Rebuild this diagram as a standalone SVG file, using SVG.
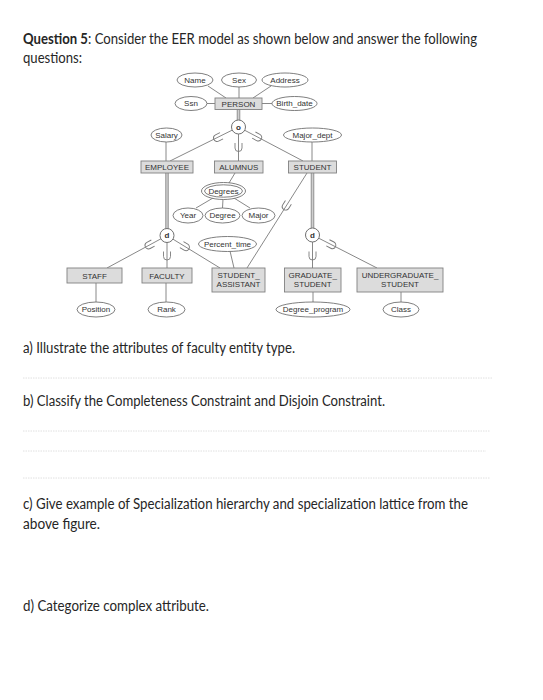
<svg xmlns="http://www.w3.org/2000/svg" width="543" height="700" viewBox="0 0 543 700">
<defs>
<style>
.q{font-family:Lato,"Open Sans","Liberation Sans",sans-serif;font-size:14.5px;fill:#262626}
.b{font-weight:bold}
.t{font-family:"Liberation Sans",Arial,sans-serif;font-size:8px;fill:#333;text-anchor:middle}
.ent rect{fill:#dcdcdc;stroke:#808080;stroke-width:0.9}
.att ellipse{fill:#fff;stroke:#707070;stroke-width:0.9}
.ln{stroke:#7a7a7a;stroke-width:0.9;fill:none}
.dbl{stroke:#999;stroke-width:3.6;fill:none}
.dbli{stroke:#cfcfcf;stroke-width:1.4;fill:none}
.cup{stroke:#7a7a7a;stroke-width:0.9;fill:none}
.circ circle{fill:#fff;stroke:#707070;stroke-width:1}
.rule{stroke:#d8d8d8;stroke-width:0.8;stroke-dasharray:1.5 1}
</style>
<path id="cup" d="M -3.5 -4.5 V 0.5 A 3.5 3.5 0 0 0 3.5 0.5 V -4.5"/>
</defs>
<rect width="543" height="700" fill="#fff"/>

<g id="text">
<text class="q" x="23" y="44" textLength="454" lengthAdjust="spacingAndGlyphs"><tspan class="b">Question 5</tspan>: Consider the EER model as shown below and answer the following</text>
<text class="q" x="23" y="63" textLength="59" lengthAdjust="spacingAndGlyphs">questions:</text>
<text class="q" x="23" y="353" textLength="272" lengthAdjust="spacingAndGlyphs">a) Illustrate the attributes of faculty entity type.</text>
<text class="q" x="23" y="406" textLength="362" lengthAdjust="spacingAndGlyphs">b) Classify the Completeness Constraint and Disjoin Constraint.</text>
<text class="q" x="23" y="509" textLength="445" lengthAdjust="spacingAndGlyphs">c) Give example of Specialization hierarchy and specialization lattice from the</text>
<text class="q" x="23" y="529" textLength="77" lengthAdjust="spacingAndGlyphs">above figure.</text>
<text class="q" x="23" y="611" textLength="186" lengthAdjust="spacingAndGlyphs">d) Categorize complex attribute.</text>
</g>
<g id="rules">
<line class="rule" x1="23" y1="378" x2="492" y2="378"/>
<line class="rule" x1="23" y1="431" x2="490" y2="431"/>
<line class="rule" x1="23" y1="451" x2="486" y2="451"/>
<line class="rule" x1="23" y1="478" x2="490" y2="478"/>
</g>

<g id="connectors">
<line class="dbl" x1="238.5" y1="109" x2="238.5" y2="121"/>
<line class="dbli" x1="238.5" y1="109" x2="238.5" y2="121"/>
<line class="dbl" x1="167" y1="173" x2="167" y2="229"/>
<line class="dbli" x1="167" y1="173" x2="167" y2="229"/>
<line class="dbl" x1="312.5" y1="173" x2="312.5" y2="228"/>
<line class="dbli" x1="312.5" y1="173" x2="312.5" y2="228"/>
<line class="ln" x1="208" y1="86" x2="226" y2="98"/>
<line class="ln" x1="239" y1="87" x2="239" y2="98"/>
<line class="ln" x1="271" y1="86" x2="253" y2="98"/>
<line class="ln" x1="207" y1="103.5" x2="215" y2="103.5"/>
<line class="ln" x1="262" y1="103.5" x2="272" y2="103.5"/>
<line class="ln" x1="166" y1="142" x2="166" y2="161"/>
<line class="ln" x1="312" y1="142" x2="312" y2="161"/>
<line class="ln" x1="235" y1="173" x2="229" y2="183"/>
<line class="ln" x1="213" y1="198" x2="196" y2="208"/>
<line class="ln" x1="223" y1="199" x2="222.5" y2="208"/>
<line class="ln" x1="234" y1="198" x2="250" y2="208"/>
<line class="ln" x1="230" y1="251" x2="234" y2="268"/>
<line class="ln" x1="96" y1="283" x2="96" y2="302"/>
<line class="ln" x1="166" y1="283" x2="166" y2="302"/>
<line class="ln" x1="313" y1="292" x2="313" y2="302"/>
<line class="ln" x1="401" y1="292" x2="401" y2="302"/>
<line class="ln" x1="238.5" y1="127" x2="170" y2="161"/>
<line class="ln" x1="238.5" y1="127" x2="238.5" y2="161"/>
<line class="ln" x1="238.5" y1="127" x2="303" y2="161"/>
<line class="ln" x1="307" y1="173" x2="247" y2="268"/>
<line class="ln" x1="167" y1="235.5" x2="107" y2="268"/>
<line class="ln" x1="167" y1="235.5" x2="167" y2="268"/>
<line class="ln" x1="167" y1="235.5" x2="220" y2="268"/>
<line class="ln" x1="312.5" y1="235" x2="312.5" y2="268"/>
<line class="ln" x1="312.5" y1="235" x2="377" y2="268"/>
<use href="#cup" class="cup" transform="translate(217.5,137.7) rotate(63.6)"/>
<use href="#cup" class="cup" transform="translate(238.5,147.5)"/>
<use href="#cup" class="cup" transform="translate(257.8,137.2) rotate(-62.2)"/>
<use href="#cup" class="cup" transform="translate(286,206.2) rotate(32.3)"/>
<use href="#cup" class="cup" transform="translate(149,245.2) rotate(61.6)"/>
<use href="#cup" class="cup" transform="translate(167,256)"/>
<use href="#cup" class="cup" transform="translate(185.5,246.9) rotate(-58.5)"/>
<use href="#cup" class="cup" transform="translate(312.5,256)"/>
<use href="#cup" class="cup" transform="translate(331.9,244.9) rotate(-62.9)"/>
</g>

<g id="circles" class="circ">
<g id="c-o"><circle cx="238.5" cy="127" r="7"/><text class="t" x="238.5" y="129.8" style="font-weight:bold">o</text></g>
<g id="c-d1"><circle cx="167" cy="235.5" r="7"/><text class="t" x="167" y="238.3" style="font-weight:bold">d</text></g>
<g id="c-d2"><circle cx="312.5" cy="235" r="7"/><text class="t" x="312.5" y="237.8" style="font-weight:bold">d</text></g>
</g>

<g id="entities" class="ent">
<g id="person"><rect x="215" y="98" width="47" height="11.5"/><text class="t" x="238.5" y="106.8">PERSON</text></g>
<g id="employee"><rect x="141" y="161" width="52" height="12"/><text class="t" x="167" y="170">EMPLOYEE</text></g>
<g id="alumnus"><rect x="214.5" y="161" width="48.5" height="12"/><text class="t" x="238.7" y="170">ALUMNUS</text></g>
<g id="student"><rect x="288.5" y="161" width="48" height="12"/><text class="t" x="312.5" y="170">STUDENT</text></g>
<g id="staff"><rect x="67" y="268" width="55" height="15"/><text class="t" x="94.5" y="278.5">STAFF</text></g>
<g id="faculty"><rect x="142" y="268" width="50" height="15"/><text class="t" x="167" y="278.5">FACULTY</text></g>
<g id="student_assistant"><rect x="212" y="268" width="53" height="24"/><text class="t" x="238.5" y="277.7">STUDENT_</text><text class="t" x="238.5" y="287.3">ASSISTANT</text></g>
<g id="graduate_student"><rect x="284.5" y="268" width="56.5" height="24"/><text class="t" x="312.7" y="277.7">GRADUATE_</text><text class="t" x="312.7" y="287.3">STUDENT</text></g>
<g id="undergraduate_student"><rect x="357" y="268" width="86" height="24"/><text class="t" x="400" y="277.7">UNDERGRADUATE_</text><text class="t" x="400" y="287.3">STUDENT</text></g>
</g>

<g id="attributes" class="att">
<g id="a-name"><ellipse cx="195" cy="80" rx="18" ry="7"/><text class="t" x="195" y="82.8">Name</text></g>
<g id="a-sex"><ellipse cx="239" cy="80" rx="17.5" ry="7"/><text class="t" x="239" y="82.8">Sex</text></g>
<g id="a-address"><ellipse cx="285" cy="80" rx="23" ry="7"/><text class="t" x="285" y="82.8">Address</text></g>
<g id="a-ssn"><ellipse cx="191" cy="103.5" rx="16" ry="7"/><text class="t" x="191" y="106.3">Ssn</text></g>
<g id="a-birth"><ellipse cx="294.5" cy="103.5" rx="22.5" ry="7"/><text class="t" x="294.5" y="106.3">Birth_date</text></g>
<g id="a-salary"><ellipse cx="166.5" cy="135" rx="15.5" ry="7"/><text class="t" x="166.5" y="137.8">Salary</text></g>
<g id="a-major_dept"><ellipse cx="312.5" cy="135" rx="29" ry="7"/><text class="t" x="312.5" y="137.8">Major_dept</text></g>
<g id="a-degrees"><ellipse cx="223.5" cy="191" rx="22" ry="8.5"/><ellipse cx="223.5" cy="191" rx="19" ry="6.2"/><text class="t" x="223.5" y="193.8">Degrees</text></g>
<g id="a-year"><ellipse cx="188" cy="215.5" rx="15" ry="7.5"/><text class="t" x="188" y="218.3">Year</text></g>
<g id="a-degree"><ellipse cx="222.5" cy="215.5" rx="17.5" ry="7.5"/><text class="t" x="222.5" y="218.3">Degree</text></g>
<g id="a-major"><ellipse cx="258.5" cy="215.5" rx="16.5" ry="7.5"/><text class="t" x="258.5" y="218.3">Major</text></g>
<g id="a-percent"><ellipse cx="227.5" cy="244" rx="29" ry="7.5"/><text class="t" x="227.5" y="246.8">Percent_time</text></g>
<g id="a-position"><ellipse cx="96" cy="309.5" rx="19" ry="7.5"/><text class="t" x="96" y="312.3">Position</text></g>
<g id="a-rank"><ellipse cx="166.5" cy="309.5" rx="18.5" ry="7.5"/><text class="t" x="166.5" y="312.3">Rank</text></g>
<g id="a-degree_program"><ellipse cx="313" cy="309.5" rx="37" ry="7.5"/><text class="t" x="313" y="312.3">Degree_program</text></g>
<g id="a-class"><ellipse cx="401" cy="309.5" rx="18" ry="7.5"/><text class="t" x="401" y="312.3">Class</text></g>
</g>
</svg>
